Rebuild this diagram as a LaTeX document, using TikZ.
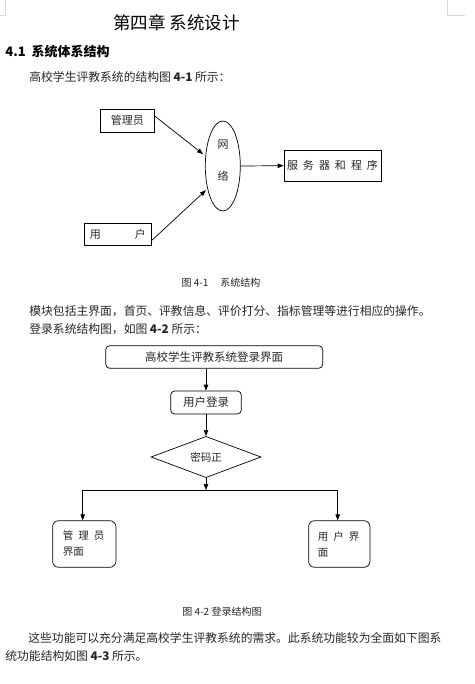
\documentclass[tikz,border=0pt]{standalone}
\usepackage{fontspec}
\setmainfont{Noto Sans CJK SC}
\usetikzlibrary{arrows.meta,shapes.geometric}
\newcommand{\gp}{\hspace{5pt}}
\begin{document}
\begin{tikzpicture}[x=1pt,y=-1pt,line width=0.7pt,
    box/.style={draw,inner sep=0pt,text=black!85,font=\fontsize{11}{12}\selectfont},
    rbox/.style={box,rounded corners=4pt,font=\fontsize{11.5}{12}\selectfont},
    sbox/.style={box,rounded corners=6pt,align=left,text width=43pt,
      minimum height=46.6pt,font=\fontsize{10.5}{16}\selectfont},
    net/.style={draw,ellipse,inner sep=0pt,minimum width=35pt,minimum height=90pt},
    check/.style={draw,diamond,inner sep=0pt,minimum width=110pt,minimum height=39.4pt,
      text=black!85,font=\fontsize{10.5}{12}\selectfont},
    arr/.style={-{Triangle[length=6pt,width=4.5pt]}},
    lbl/.style={inner sep=0pt,text=black!85,font=\fontsize{11}{12}\selectfont},
    txt/.style={anchor=west,inner sep=0pt,text=black!85,font=\fontsize{11.8}{12}\selectfont},
    figcap/.style={inner sep=0pt,text=black!85,font=\fontsize{10}{12}\selectfont},
    crop/.style={draw=gray!30,line width=0.6pt}]
  \useasboundingbox (0,0) rectangle (474,684);
  \draw[crop] (0,15) -- (5,15) -- (5,0);
  \draw[crop] (447.5,0) -- (447.5,15) -- (465,15);
  \node[inner sep=0pt,font=\fontsize{17.5}{20}\selectfont] (title) at (176.5,23) {第四章 系统设计};
  \node[anchor=west,inner sep=0pt,font=\fontsize{13}{15}\selectfont\bfseries] (sec) at (5,52) {4.1\hspace{6pt}系统体系结构};
  \node[txt] (p1) at (29,77) {高校学生评教系统的结构图 \textbf{4-1} 所示：};
  % 图 4-1
  \node[box,minimum width=53.3pt,minimum height=23.3pt] (admin) at (127.3,120.7) {管理员};
  \node[box,minimum width=67.7pt,minimum height=21.7pt] (user) at (117.8,234.2) {用\hspace{34pt}户};
  \node[net] (netw) at (222.8,166) {};
  \node[lbl] (net1) at (223,145) {网};
  \node[lbl] (net2) at (223,176) {络};
  \node[box,minimum width=97pt,minimum height=30.7pt] (server) at (332.5,165.7)
    {服\gp 务\gp 器\gp 和\gp 程\gp 序};
  \draw[arr,shorten >=3pt] ([yshift=5pt]admin.east) -- (netw.150);
  \draw[arr,shorten >=2pt] ([yshift=-6pt]user.east) -- (netw.236);
  \draw[arr] (netw.east) -- (server.west);
  \node[figcap] (cap1) at (221,283) {图 4-1\hspace{12pt}系统结构};
  \node[txt] (p2) at (29,311) {模块包括主界面，首页、评教信息、评价打分、指标管理等进行相应的操作。};
  \node[txt] (p3) at (29,329) {登录系统结构图，如图 \textbf{4-2} 所示：};
  % 图 4-2
  \node[rbox,minimum width=217pt,minimum height=22.6pt] (top) at (214.2,357) {高校学生评教系统登录界面};
  \node[rbox,minimum width=70.6pt,minimum height=23pt] (login) at (206,402.5) {用户登录};
  \node[check] (pwd) at (206,457) {密码正};
  \coordinate (split) at (206,490);
  \node[sbox,minimum width=63.3pt] (admui) at (84.3,544) {管\gp 理\gp 员\\界面};
  \node[sbox,minimum width=61.3pt] (userui) at (339.3,544) {用\gp 户\gp 界\\面};
  \draw[arr] (login.north |- top.south) -- (login.north);
  \draw[arr] (login.south) -- (pwd.north);
  \draw[arr] (pwd.south) -- (split);
  \draw[arr] (split) -| ([xshift=-1.6pt]admui.north);
  \draw[arr] (split) -| ([xshift=-1.6pt]userui.north);
  \node[figcap] (cap2) at (222,612) {图 4-2 登录结构图};
  \node[txt] (p4) at (28,638) {这些功能可以充分满足高校学生评教系统的需求。此系统功能较为全面如下图系};
  \node[txt] (p5) at (5,656) {统功能结构如图 \textbf{4-3} 所示。};
\end{tikzpicture}
\end{document}
